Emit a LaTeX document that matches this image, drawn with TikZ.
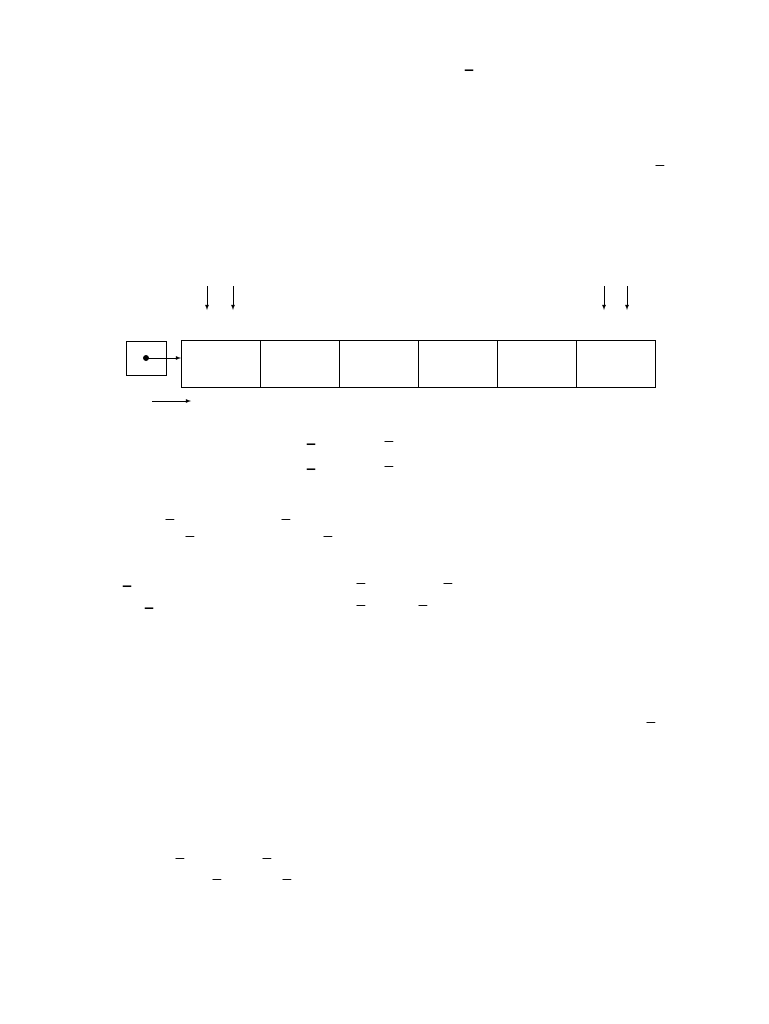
\documentclass[tikz,border=0pt]{standalone}
\usepackage{fontspec}
\setmainfont{Liberation Sans}
\newfontfamily\heavyfont{DejaVu Sans}
\usetikzlibrary{positioning}
\begin{document}
\begin{tikzpicture}[x=1pt, y=-1pt, node distance = 0pt,
  cell/.style = {draw, minimum width=79pt, minimum height=47pt,
    inner sep=0pt, outer sep=0pt},
  ptrbox/.style = {draw, minimum width=40pt, minimum height=34pt,
    inner sep=0pt},
  blank/.style = {inner sep=0pt, font=\fontsize{15}{15}\selectfont},
  heavy/.style = {inner sep=0pt, yshift=-2.5pt,
    font=\heavyfont\fontsize{17}{17}\selectfont\bfseries},
  arr/.style = {line width=0.8pt, -latex}
  ]
  \useasboundingbox (0,0) rectangle (768,1024);

  % the array
  \node (c1) [cell] at (220.5,363.5) {};
  \node (c2) [cell, right=of c1] {};
  \node (c3) [cell, right=of c2] {};
  \node (c4) [cell, right=of c3] {};
  \node (c5) [cell, right=of c4] {};
  \node (c6) [cell, right=of c5] {};

  % pointer box
  \node (p) [ptrbox] at (146,358) {};
  \fill (p.center) circle (3pt);
  \draw [arr] (p.center) -- (c1.west |- p.center);
  \coordinate (a0) at (152,401);
  \coordinate (a1) at (191,401);
  \draw [arr] (a0) -- (a1);

  % index arrows
  \coordinate (i1) at (207,286);
  \coordinate (i2) at (233,286);
  \coordinate (i3) at (604,286);
  \coordinate (i4) at (627,286);
  \draw [arr] (i1) -- ++(0,24);
  \draw [arr] (i2) -- ++(0,24);
  \draw [arr] (i3) -- ++(0,24);
  \draw [arr] (i4) -- ++(0,24);

  % leftover text
  \node (t1) [heavy] at (469,67) {\_};
  \node (t2) [blank] at (660,165) {\_};
  \node (t3) [heavy] at (311,441) {\_};
  \node (t4) [blank] at (389,441) {\_};
  \node (t5) [heavy] at (311,466) {\_};
  \node (t6) [blank] at (389,466) {\_};
  \node (t7) [blank] at (170,519) {\_};
  \node (t8) [blank] at (286,519) {\_};
  \node (t9) [blank] at (190,536) {\_};
  \node (t10) [blank] at (328,536) {\_};
  \node (t11) [heavy] at (127,583) {\_};
  \node (t12) [blank] at (361,583) {\_};
  \node (t13) [blank] at (448,583) {\_};
  \node (t14) [heavy] at (149,605) {\_};
  \node (t15) [blank] at (361,605) {\_};
  \node (t16) [blank] at (423,605) {\_};
  \node (t17) [blank] at (651,722) {\_};
  \node (t18) [blank] at (180,858) {\_};
  \node (t19) [blank] at (267,858) {\_};
  \node (t20) [blank] at (217,879) {\_};
  \node (t21) [blank] at (287,879) {\_};
\end{tikzpicture}
\end{document}
